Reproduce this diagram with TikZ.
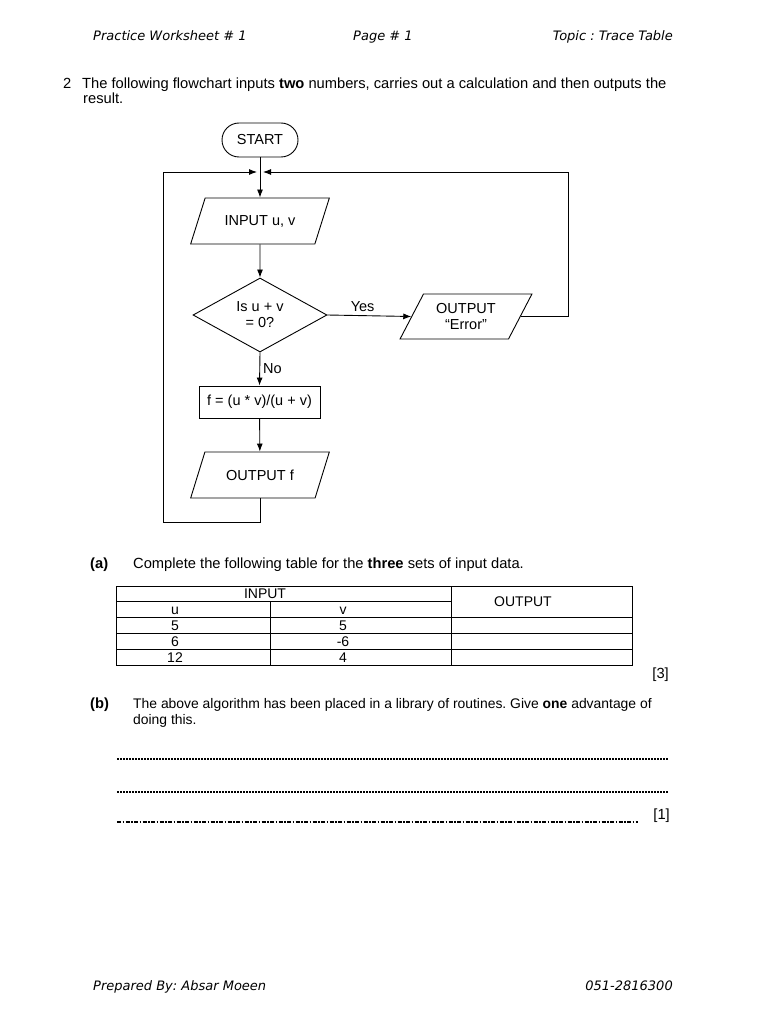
\documentclass[tikz,border=0pt]{standalone}
\usepackage{fontspec}
\setmainfont{Liberation Sans}
\newfontfamily\headFont{DejaVu Sans}
\usepackage{tikz}
\usetikzlibrary{shapes.geometric,arrows.meta}
\newcommand{\bodySize}{\fontsize{14.7}{16}\selectfont}
\newcommand{\narrowSize}{\fontsize{13.9}{16}\selectfont}
\newcommand{\chartSize}{\fontsize{14.5}{16}\selectfont}
\newcommand{\tableSize}{\fontsize{14}{15}\selectfont}
\newcommand{\headSize}{\fontsize{13}{15}\selectfont}
\newcommand{\chartX}{260}
\newcommand{\joinY}{172}
\newcommand{\loopLeftX}{163}
\newcommand{\loopRightX}{568}
\newcommand{\loopBottomY}{522}
\newcommand{\tableLeft}{116}
\newcommand{\tableRight}{632}
\newcommand{\tableMid}{270}
\newcommand{\tableSplit}{451}
\newcommand{\tableTop}{586}
\newcommand{\rowHeight}{16}
\newcommand{\tableRows}{0/5/5, 1/6/-6, 2/12/4}

\begin{document}
\frenchspacing
\begin{tikzpicture}[x=1pt,y=-1pt,font=\bodySize,
	plainText/.style={inner sep=0pt},
	headText/.style={inner sep=0pt, font=\headFont\itshape\headSize},
	terminal/.style={draw, line width=0.9pt, rounded corners=17pt, minimum width=76pt, minimum height=34pt, font=\chartSize},
	io/.style={draw, line width=0.9pt, trapezium, trapezium left angle=61, trapezium right angle=119, trapezium stretches=true, minimum width=140pt, minimum height=46pt, align=center, font=\chartSize},
	decision/.style={draw, line width=0.9pt, diamond, aspect=1.8, minimum width=134pt, minimum height=74pt, inner sep=0pt, align=center, font=\chartSize},
	process/.style={draw, line width=0.9pt, rectangle, minimum width=121pt, minimum height=32pt, font=\chartSize},
	flowArrow/.style={line width=0.9pt, -{Latex[length=8pt,width=6pt]}},
	tableLine/.style={line width=1pt},
	tableText/.style={inner sep=0pt, anchor=base, font=\tableSize},
	answerDots/.style={line width=1.8pt, dash pattern=on 1.5pt off 1.5pt},
	answerDash/.style={line width=1.8pt, dash pattern=on 4pt off 1.5pt on 1.5pt off 1.5pt}]

	\useasboundingbox (0,0) rectangle (768,1024);

	% header
	\node[headText, anchor=base west] (hdrLeft) at (93,41) {Practice Worksheet \# 1};
	\node[headText, anchor=base west] (hdrMid) at (353,41) {Page \# 1};
	\node[headText, anchor=base east] (hdrRight) at (673,41) {Topic : Trace Table};

	% question
	\node[plainText, anchor=base west] (qNum) at (63,89) {2};
	\node[plainText, anchor=base west] (qLineA) at (82,89) {The following flowchart inputs \textbf{two} numbers, carries out a calculation and then outputs the};
	\node[plainText, anchor=base west] (qLineB) at (83,104) {result.};

	% flowchart
	\node[terminal] (start) at (\chartX,140) {START};
	\node[io] (input) at (\chartX,221) {INPUT u, v};
	\node[decision] (check) at (\chartX,315) {Is u + v\\= 0?};
	\node[io, minimum width=132pt, minimum height=45pt] (error) at (466,316.5) {OUTPUT\\“Error”};
	\node[process] (calc) at (259.5,402) {f = (u * v)/(u + v)};
	\node[io] (result) at (\chartX,475) {OUTPUT f};

	\coordinate (joinL) at (\chartX-3,\joinY);
	\coordinate (joinR) at (\chartX+3,\joinY);
	\coordinate (loopL) at (\loopLeftX,\loopBottomY);
	\coordinate (loopR) at (\loopRightX,\joinY);

	\draw[flowArrow] (start) -- (input);
	\draw[flowArrow] (input) -- (check);
	\draw[flowArrow] (check.east) -- (error.west) node[pos=0.42, above=4pt, inner sep=0pt, font=\chartSize] {Yes};
	\draw[flowArrow] (check.south) -- (calc.north) node[midway, right=3pt, inner sep=0pt, font=\chartSize] {No};
	\draw[flowArrow] (calc) -- (result);
	\draw[flowArrow] (result.south) |- (loopL) |- (joinL);
	\draw[flowArrow] (error.east) -| (loopR) -- (joinR);

	% part (a)
	\node[plainText, anchor=base west] (partA) at (90,568) {\textbf{(a)}};
	\node[plainText, anchor=base west] (partAText) at (133,568) {Complete the following table for the \textbf{three} sets of input data.};

	% table
	\draw[tableLine] (\tableLeft,\tableTop) rectangle (\tableRight,\tableTop+79);
	\draw[tableLine] (\tableLeft,\tableTop+15) -- (\tableSplit,\tableTop+15);
	\foreach \rowNumber in {0,1,2}
	{
		\draw[tableLine] (\tableLeft,\tableTop+31+\rowNumber*\rowHeight) -- (\tableRight,\tableTop+31+\rowNumber*\rowHeight);
	}
	\draw[tableLine] (\tableMid,\tableTop+15) -- (\tableMid,\tableTop+79);
	\draw[tableLine] (\tableSplit,\tableTop) -- (\tableSplit,\tableTop+79);

	\node[tableText] (headInput) at (265,598) {INPUT};
	\node[tableText] (headOutput) at (523,606) {OUTPUT};
	\node[tableText] (headU) at (175,614) {u};
	\node[tableText] (headV) at (343,614) {v};
	\foreach \rowNumber/\valU/\valV in \tableRows
	{
		\node[tableText] (u\rowNumber) at (175,630+\rowNumber*\rowHeight) {\valU};
		\node[tableText] (v\rowNumber) at (343,630+\rowNumber*\rowHeight) {\valV};
	}
	\node[plainText, anchor=base east] (markA) at (669,678) {[3]};

	% part (b)
	\node[plainText, anchor=base west] (partB) at (90,708) {\textbf{(b)}};
	\node[plainText, anchor=base west, font=\narrowSize] (partBText) at (133,708) {The above algorithm has been placed in a library of routines. Give \textbf{one} advantage of};
	\node[plainText, anchor=base west, font=\narrowSize] (partBText2) at (133,724) {doing this.};

	\draw[answerDots] (117,759) -- (669,759);
	\draw[answerDots] (117,792) -- (669,792);
	\draw[answerDash] (117,822) -- (638,822);
	\node[plainText, anchor=base east] (markB) at (670,819) {[1]};

	% footer
	\node[headText, anchor=base west] (ftrLeft) at (93,990) {Prepared By: Absar Moeen};
	\node[headText, anchor=base east] (ftrRight) at (673,990) {051-2816300};
\end{tikzpicture}
\end{document}
